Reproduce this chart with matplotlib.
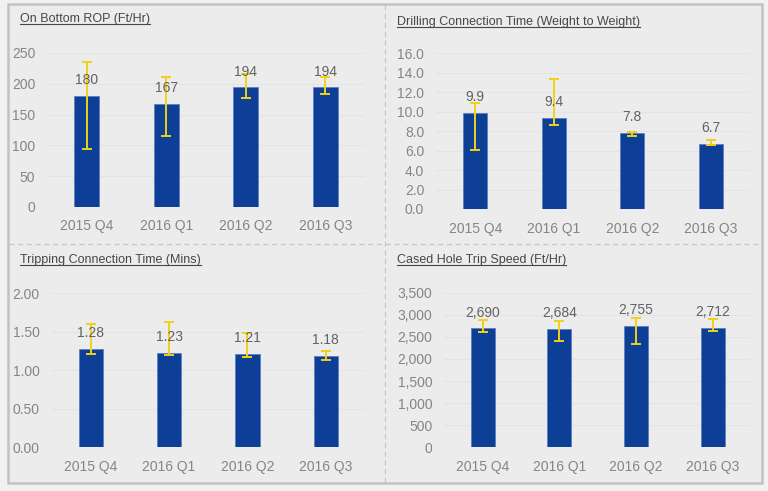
import numpy as np
import matplotlib
matplotlib.use('Agg')
import matplotlib.pyplot as plt
from matplotlib.lines import Line2D
from matplotlib.patches import Rectangle
from matplotlib.ticker import FuncFormatter

quarters = ['2015 Q4', '2016 Q1', '2016 Q2', '2016 Q3']

rop = [180, 167, 194, 194]
rop_lo = [94, 116, 177, 184]
rop_hi = [235, 211, 216, 211]

drill_conn = [9.9, 9.4, 7.8, 6.7]
drill_lo = [6.1, 8.6, 7.5, 6.6]
drill_hi = [10.9, 13.4, 7.9, 7.1]

trip_conn = [1.28, 1.23, 1.21, 1.18]
trip_lo = [1.21, 1.20, 1.17, 1.13]
trip_hi = [1.60, 1.63, 1.48, 1.25]

trip_speed = [2690, 2684, 2755, 2712]
speed_lo = [2602, 2406, 2331, 2625]
speed_hi = [2889, 2866, 2934, 2912]

W, H = 768, 491
BAR = '#0e3f97'
ERR = '#f0d21a'
BG_IN = '#ececec'
BG_OUT = '#f1f1f1'

plt.rcParams['font.family'] = ['Liberation Sans', 'DejaVu Sans']

fig = plt.figure(figsize=(W / 100, H / 100), dpi=100)
fig.patch.set_facecolor(BG_OUT)

# inner panel background + border
fig.patches.append(Rectangle((8 / W, 1 - 483 / H), 754 / W, 479 / H,
                             transform=fig.transFigure, facecolor=BG_IN,
                             edgecolor='#c2c2c2', lw=1.8, zorder=-10))
fig.lines.append(Line2D([385 / W, 385 / W], [1 - 5 / H, 1 - 482 / H],
                        transform=fig.transFigure, color='#c6c6c6', lw=0.9,
                        ls=(0, (4, 3)), zorder=-5))
fig.lines.append(Line2D([9 / W, 761 / W], [1 - 244 / H, 1 - 244 / H],
                        transform=fig.transFigure, color='#c6c6c6', lw=0.9,
                        ls=(0, (4, 3)), zorder=-5))


def px_axes(left, right, bottom, top):
    return fig.add_axes([left / W, 1 - bottom / H, (right - left) / W, (bottom - top) / H])


def panel(ax, vals, lo, hi, ymax, step, fmt, title, tx, ty):
    x = np.arange(len(quarters))
    ax.set_facecolor('none')
    ax.bar(x, vals, width=0.31, color=BAR, edgecolor='#5b7fc4', linewidth=0.6, zorder=2)
    vals_a = np.array(vals)
    yerr = [vals_a - np.array(lo), np.array(hi) - vals_a]
    ax.errorbar(x, vals, yerr=yerr, fmt='none', ecolor=ERR, elinewidth=1.4,
                capsize=3.6, capthick=1.4, zorder=3)
    for xi, v in zip(x, vals):
        ax.annotate(fmt(v), (xi, v), xytext=(0, 11.5), textcoords='offset points',
                    ha='center', va='center', fontsize=10, color='#626262', zorder=4)
    ax.set_xlim(-0.5, len(quarters) - 0.5)
    ax.set_ylim(0, ymax)
    ax.set_yticks(np.arange(0, ymax + step / 2, step))
    ax.yaxis.set_major_formatter(FuncFormatter(lambda v, p: fmt(v)))
    ax.set_xticks(x)
    ax.set_xticklabels(quarters)
    ax.tick_params(axis='both', length=0, labelsize=10, labelcolor='#858585')
    ax.tick_params(axis='y', pad=8.5)
    ax.tick_params(axis='x', pad=9)
    ax.grid(axis='y', color='#e4e4e4', lw=0.8, zorder=0)
    ax.set_axisbelow(True)
    for s in ax.spines.values():
        s.set_visible(False)
    t = fig.text(tx / W, 1 - ty / H, title, fontsize=9, color='#474747', ha='left', va='center')
    return t


titles = []
ax1 = px_axes(47, 365, 207, 53)
titles.append(panel(ax1, rop, rop_lo, rop_hi, 250, 50, lambda v: f'{v:.0f}',
                    'On Bottom ROP (Ft/Hr)', 20, 19))
ax2 = px_axes(436, 750, 209, 53.3)
titles.append(panel(ax2, drill_conn, drill_lo, drill_hi, 16, 2, lambda v: f'{v:.1f}',
                    'Drilling Connection Time (Weight to Weight)', 397, 22))
ax3 = px_axes(51.6, 365, 447.3, 293.3)
titles.append(panel(ax3, trip_conn, trip_lo, trip_hi, 2, 0.5, lambda v: f'{v:.2f}',
                    'Tripping Connection Time (Mins)', 20, 260))
ax4 = px_axes(444.3, 751, 447.3, 292.7)
titles.append(panel(ax4, trip_speed, speed_lo, speed_hi, 3500, 500, lambda v: f'{v:,.0f}',
                    'Cased Hole Trip Speed (Ft/Hr)', 397, 260))

# underline the titles
fig.canvas.draw()
r = fig.canvas.get_renderer()
for t in titles:
    bb = t.get_window_extent(r)
    yl = bb.y0 + 1
    fig.lines.append(Line2D([bb.x0 / W, bb.x1 / W], [yl / H, yl / H],
                            transform=fig.transFigure, color='#474747', lw=0.8))

fig.savefig('out.png', dpi=100, facecolor=fig.get_facecolor())
